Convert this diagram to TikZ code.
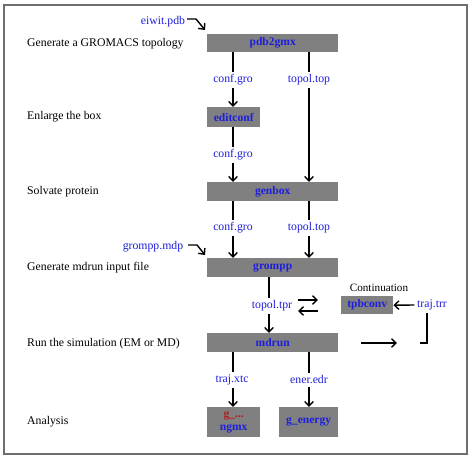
\documentclass[tikz,border=0pt]{standalone}
\usepackage{fontspec}
\setmainfont{Liberation Serif}
\usetikzlibrary{arrows.meta}
\definecolor{lblblue}{RGB}{30,30,220}
\definecolor{boxgray}{RGB}{128,128,128}
\definecolor{gred}{RGB}{175,30,30}
\definecolor{framegray}{RGB}{110,110,110}
\begin{document}
\begin{tikzpicture}[x=1bp,y=-1bp,
  prog/.style={fill=boxgray, text=lblblue, font=\fontsize{11.6}{14}\selectfont\bfseries, inner sep=0pt, anchor=north west, align=center},
  file/.style={text=lblblue, font=\fontsize{11.8}{13}\selectfont, inner sep=2.5pt},
  stage/.style={anchor=west, font=\fontsize{11.8}{13}\selectfont, inner sep=0pt},
  conn/.style={line width=1.4bp, black},
  arr/.style={conn, -{Straight Barb[length=4.5bp,width=8.5bp]}},
]
\useasboundingbox (0,0) rectangle (474,461);
\draw[framegray, line width=1.5bp] (4,5) rectangle (467,454);

% stage labels
\node[stage] (s1) at (27,44) {Generate a GROMACS topology};
\node[stage] (s2) at (27,117) {Enlarge the box};
\node[stage] (s3) at (27,192) {Solvate protein};
\node[stage] (s4) at (27,268) {Generate mdrun input file};
\node[stage] (s5) at (27,344) {Run the simulation (EM or MD)};
\node[stage] (s6) at (27,422) {Analysis};

% program boxes
\node[prog, minimum width=131bp, minimum height=18bp] (pdb) at (207,34) {pdb2gmx};
\node[prog, minimum width=53bp, minimum height=20bp] (edit) at (207,107) {editconf};
\node[prog, minimum width=131bp, minimum height=19bp] (genbox) at (207,182) {genbox};
\node[prog, minimum width=131bp, minimum height=19bp] (grompp) at (207,258) {grompp};
\node[prog, minimum width=52bp, minimum height=18bp] (tpb) at (341,296) {tpbconv};
\node[prog, minimum width=131bp, minimum height=19bp] (mdrun) at (207,333) {mdrun};
\node[prog, minimum width=53bp, minimum height=30bp] (ngmx) at (207,407) {\textcolor{gred}{g\_...}\\[-0.5bp]ngmx};
\node[prog, minimum width=59bp, minimum height=30bp] (gen) at (279,407) {g\_energy};

% file labels
\node[file] (eiwit) at (163,22) {eiwit.pdb};
\node[file] (cg1) at (233,80) {conf.gro};
\node[file] (tt1) at (309,80) {topol.top};
\node[file] (cg2) at (233,155) {conf.gro};
\node[file] (cg3) at (233,228) {conf.gro};
\node[file] (tt3) at (309,228) {topol.top};
\node[file] (mdp) at (153,247) {grompp.mdp};
\node[file] (tpr) at (272,306) {topol.tpr};
\node[file] (trr) at (432,305) {traj.trr};
\node[file] (xtc) at (232,380) {traj.xtc};
\node[file] (edr) at (309,380) {ener.edr};
\node[font=\fontsize{11.2}{13}\selectfont, inner sep=0pt] (cont) at (379,288) {Continuation};

% helper coordinates
\coordinate (xl) at (233,0);
\coordinate (xr) at (309,0);
\coordinate (xm) at (269,0);
\coordinate (h1a) at (187,19);
\coordinate (h1b) at (196,19);
\coordinate (h1c) at (205,30);
\coordinate (h2a) at (188,245);
\coordinate (h2b) at (197,245);
\coordinate (h2c) at (205,255);
\coordinate (da1) at (298,300);
\coordinate (da2) at (318,300);
\coordinate (db1) at (318,311);
\coordinate (db2) at (298,311);
\coordinate (bend) at (427,343);
\coordinate (bend2) at (420,343);
\coordinate (ra) at (361,343);
\coordinate (rb) at (397,343);

% hook arrows
\draw[arr] (h1a) -- (h1b) -- (h1c);
\draw[arr] (h2a) -- (h2b) -- (h2c);

% pdb2gmx outputs
\draw[conn] (xl |- pdb.south) -- (cg1.north);
\draw[arr] (cg1.south) -- (xl |- edit.north);
\draw[conn] (xr |- pdb.south) -- (tt1.north);
\draw[arr] (tt1.south) -- (xr |- genbox.north);
% editconf
\draw[conn] (xl |- edit.south) -- (cg2.north);
\draw[arr] (cg2.south) -- (xl |- genbox.north);
% genbox
\draw[conn] (xl |- genbox.south) -- (cg3.north);
\draw[arr] (cg3.south) -- (xl |- grompp.north);
\draw[conn] (xr |- genbox.south) -- (tt3.north);
\draw[arr] (tt3.south) -- (xr |- grompp.north);
% grompp
\draw[conn] (xm |- grompp.south) -- (xm |- tpr.north);
\draw[arr] (xm |- tpr.south) -- (xm |- mdrun.north);
% double arrows
\draw[arr] (da1) -- (da2);
\draw[arr] (db1) -- (db2);
% continuation
\draw[arr] (trr.west) -- (tpb.east);
\draw[conn] (bend |- trr.south) -- (bend) -- (bend2);
\draw[arr] (ra) -- (rb);
% mdrun outputs
\draw[conn] (xl |- mdrun.south) -- (xl |- xtc.north);
\draw[arr] (xl |- xtc.south) -- (xl |- ngmx.north);
\draw[conn] (xr |- mdrun.south) -- (edr.north);
\draw[arr] (edr.south) -- (xr |- gen.north);
\end{tikzpicture}
\end{document}
